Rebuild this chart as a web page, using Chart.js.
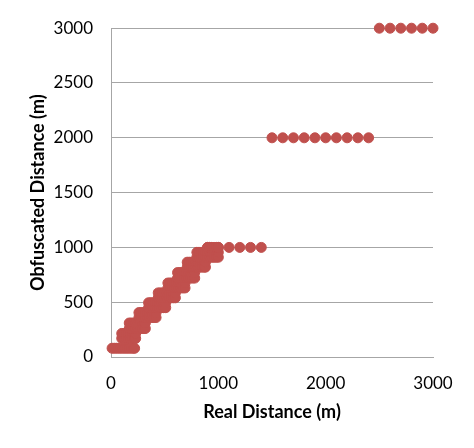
<!DOCTYPE html>
<html>
<head>
<meta charset="utf-8">
<script src="https://cdn.jsdelivr.net/npm/chart.js@4.4.1/dist/chart.umd.min.js"></script>
<style>
  body { margin: 0; background: #fff; }
  #wrap { width: 474px; height: 448px; }
</style>
</head>
<body>
<div id="wrap"><canvas id="chart" width="474" height="448"></canvas></div>
<script>
// staircase part: each step is a block of obfuscated values (low row, mid row)
// over a run of real distances
const stepLow = [80, 170, 260, 360, 450, 540, 630, 720, 820, 910, 1000];
const stepMid = [125, 215, 310, 405, 495, 585, 675, 770, 865, 955, 1000];
const stepReal = [
  [10, 30, 50, 70, 90, 110, 130, 150, 170, 190, 210, 220],
  [100, 120, 140, 160, 180, 200, 220, 230],
  [170, 190, 210, 230, 250, 270, 290, 310, 320],
  [260, 280, 300, 320, 340, 360, 380, 400, 420],
  [350, 370, 390, 410, 430, 450, 470, 490, 510],
  [440, 460, 480, 500, 520, 540, 560, 580, 600],
  [530, 550, 570, 590, 610, 630, 650, 670, 690],
  [620, 640, 660, 680, 700, 720, 740, 760, 780],
  [710, 730, 750, 770, 790, 810, 830, 850, 870, 880],
  [800, 820, 840, 860, 880, 900, 920, 940, 960, 980, 1000],
  [900, 920, 940, 960, 980, 1000]
];
// flat rows further out
const realAt1000 = [1100, 1200, 1300, 1400];
const realAt2000 = [1500, 1600, 1700, 1800, 1900, 2000, 2100, 2200, 2300, 2400];
const realAt3000 = [2500, 2600, 2700, 2800, 2900, 3000];

const pts = [];
stepReal.forEach((row, i) => {
  row.forEach(x => {
    pts.push({x: x, y: stepLow[i]});
    if (i > 0) pts.push({x: x, y: stepMid[i]});
  });
});
realAt1000.forEach(x => pts.push({x: x, y: 1000}));
realAt2000.forEach(x => pts.push({x: x, y: 2000}));
realAt3000.forEach(x => pts.push({x: x, y: 3000}));

const gridCol = '#a6a6a6';
const font = 'Lato, "Liberation Sans", sans-serif';
const plain = v => String(v);

new Chart(document.getElementById('chart'), {
  type: 'scatter',
  data: {
    datasets: [{
      data: pts,
      backgroundColor: '#c0504d',
      borderColor: '#c0504d',
      borderWidth: 1,
      pointRadius: 5,
      pointHoverRadius: 5,
      clip: false
    }]
  },
  options: {
    responsive: false,
    animation: false,
    layout: { padding: { top: 21, right: 41, bottom: 0, left: 0 } },
    plugins: { legend: { display: false }, tooltip: { enabled: false } },
    scales: {
      x: {
        type: 'linear',
        min: 0, max: 3000,
        ticks: { stepSize: 1000, padding: 16, color: '#000', font: { family: font, size: 17 }, callback: plain },
        grid: { display: false, drawTicks: false },
        border: { display: true, color: gridCol, width: 1 },
        title: { display: true, text: 'Real Distance (m)', color: '#000',
                 font: { family: font, size: 18, weight: 'bold' }, padding: { top: 0, bottom: 25 } },
        afterFit: s => { s.height = 91; }
      },
      y: {
        min: 0, max: 3000,
        ticks: { stepSize: 500, padding: 18, color: '#000', font: { family: font, size: 17 }, callback: plain },
        grid: { color: gridCol, lineWidth: 1, drawTicks: false },
        border: { display: true, color: gridCol, width: 1 },
        title: { display: true, text: 'Obfuscated Distance (m)', color: '#000',
                 font: { family: font, size: 18, weight: 'bold' }, padding: { top: 27, bottom: 0 } },
        afterFit: s => { s.width = 111; }
      }
    }
  }
});
</script>
</body>
</html>
